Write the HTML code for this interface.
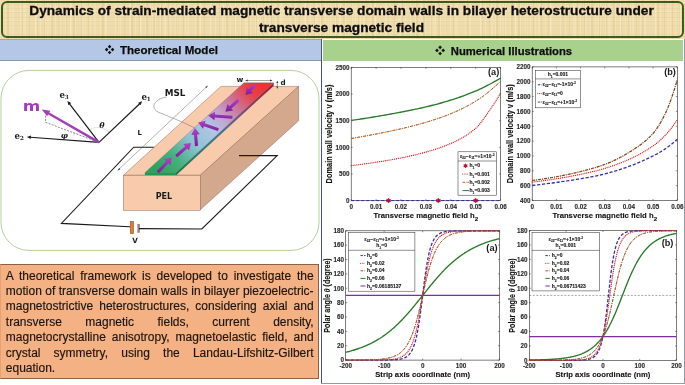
<!DOCTYPE html>
<html><head><meta charset="utf-8"><title>Dynamics of strain-mediated magnetic transverse domain walls</title>
<style>
*{box-sizing:border-box}
html,body{margin:0;padding:0;background:#fff;width:685px;height:385px;overflow:hidden}
body{position:relative;font-family:'Liberation Sans',Arial,sans-serif}
#title{position:absolute;left:0;top:0;width:685px;height:39px;background-color:#efdcab;
 background-image:repeating-linear-gradient(90deg,rgba(255,250,225,0.22) 0 1px,rgba(0,0,0,0) 1px 5px),repeating-linear-gradient(90deg,rgba(150,110,50,0.08) 0 1.5px,rgba(0,0,0,0) 1.5px 7.3px),repeating-linear-gradient(90deg,rgba(255,255,235,0.15) 0 2px,rgba(0,0,0,0) 2px 11.7px),repeating-linear-gradient(0deg,rgba(150,110,50,0.06) 0 1px,rgba(0,0,0,0) 1px 4.3px),repeating-linear-gradient(0deg,rgba(255,250,225,0.14) 0 1px,rgba(0,0,0,0) 1px 9.1px);}
#tbox{position:absolute;left:1px;top:1px;width:682.6px;height:36.8px;border:2px solid #3f5a1e;border-radius:6px}
#title .t{position:absolute;left:0;width:683px;text-align:center;font-weight:bold;font-size:13.7px;color:#0d0d0d;white-space:nowrap;line-height:16px;-webkit-text-stroke:0.3px #0d0d0d}
#hb{position:absolute;left:0;top:39px;width:321px;height:21.6px;background:#b4c7e7;border-top:1px solid #b0a88a;border-bottom:1px solid #8497b0}
#hg{position:absolute;left:322.5px;top:39.5px;width:360px;height:21.3px;background:#a9d18e}
.hd{position:absolute;font-weight:bold;color:#0d0d0d;white-space:nowrap;-webkit-text-stroke:0.25px #0d0d0d}
#vsep{position:absolute;left:320.8px;top:39px;width:1.3px;height:344px;background:#4a5466}
#rbox{position:absolute;left:321px;top:39px;width:363.8px;height:344.5px;border-right:1px solid #8e9ab0;border-bottom:1px solid #8e9ab0}
#para{position:absolute;left:0;top:263.6px;width:319px;height:115px;background:#f4b183;border:1px solid #8a6048;border-left:1px solid #e8a070;padding:4.2px 4.4px 0 4.8px;font-size:12px;line-height:15.35px;color:#1c140e;-webkit-text-stroke:0.15px #1c140e}
.pl{text-align:justify;text-align-last:justify;white-space:nowrap;height:15.35px}
.pl.last{text-align-last:left}
svg{position:absolute;left:0;top:0}
.tk{font:bold 6.3px 'Liberation Sans',Arial,sans-serif;fill:#2a2a2a;stroke:#2a2a2a;stroke-width:0.12}
.lb{font:bold 7.7px 'Liberation Sans',Arial,sans-serif;fill:#111;stroke:#111;stroke-width:0.1}
.tag{font:bold 9.2px 'Liberation Sans',Arial,sans-serif;fill:#1a1a1a}
.lg{font:bold 5px 'Liberation Sans',Arial,sans-serif;fill:#1a1a1a;stroke:#1a1a1a;stroke-width:0.12}
.dg{font-family:'Liberation Sans',Arial,sans-serif;font-weight:bold;fill:#1a1a1a}
.dj{font-family:'DejaVu Sans','Liberation Sans',Arial,sans-serif;font-weight:bold;fill:#1a1a1a}
.sv{font-family:'Liberation Serif',serif;font-weight:bold;fill:#1a1a1a}
</style></head><body>
<div id="title"><div id="tbox"></div>
<div class="t" style="top:3.4px">Dynamics of strain-mediated magnetic transverse domain walls in bilayer heterostructure under</div>
<div class="t" style="top:19.5px">transverse magnetic field</div></div>
<div id="hb"></div><div id="hg"></div>
<div class="hd" style="left:119.9px;top:44.4px;font-size:11.55px">Theoretical Model</div>
<div class="hd" style="left:450.8px;top:44.8px;font-size:11.25px">Numerical Illustrations</div>
<div id="rbox"></div>
<div id="vsep"></div>
<div id="para"><div class="pl">A theoretical framework is developed to investigate the</div><div class="pl">motion of transverse domain walls in bilayer piezoelectric-</div><div class="pl">magnetostrictive heterostructures, considering axial and</div><div class="pl">transverse magnetic fields, current density,</div><div class="pl">magnetocrystalline anisotropy, magnetoelastic field, and</div><div class="pl">crystal symmetry, using the Landau-Lifshitz-Gilbert</div><div class="pl last">equation.</div></div>
<svg width="685" height="385" viewBox="0 0 685 385">
<rect x="1" y="70.4" width="318" height="180" rx="28" ry="28" fill="none" stroke="#a6c88a" stroke-width="0.85"/>
<polyline points="154.2,147.2 133.7,147.2 61.4,223.4 130,226.8" fill="none" stroke="#1a1a1a" stroke-width="1.1"/>
<rect x="130.2" y="221.4" width="3.4" height="12.3" fill="#e07b30" stroke="#8a4a1a" stroke-width="0.5"/>
<rect x="137.7" y="224.1" width="2" height="8.5" fill="#a08080" stroke="#806060" stroke-width="0.3"/>
<text x="135" y="242.6" text-anchor="middle" class="dj" font-size="7.2">V</text>
<line x1="207.8" y1="85.7" x2="117.7" y2="170.4" stroke="#555" stroke-width="0.45"/>
<path d="M207.8 85.7l-2.6 1.2 1.2 1.2z M117.7 170.4l2.6 -1.2 -1.2 -1.2z" fill="#333"/>
<text x="139.7" y="134.8" text-anchor="middle" class="dj" font-size="6.8">L</text>
<polygon points="123.6,175.1 220.9,86.4 298.6,86.4 200.3,175.1" fill="#f9cbad" stroke="#8a6a5a" stroke-width="0.5"/>
<polygon points="200.3,175.1 298.6,86.4 298.6,120.8 200.3,209.7" fill="#d4a88c" stroke="#8a6a5a" stroke-width="0.5"/>
<rect x="123.3" y="175.3" width="77" height="35" fill="#f8cbad" stroke="#8a6a5a" stroke-width="0.5"/>
<text x="163.9" y="198.8" text-anchor="middle" class="dj" font-size="8">PEL</text>
<polyline points="139,228.6 201.8,229 277.2,155.6 239,155.6" fill="none" stroke="#1a1a1a" stroke-width="1.1"/>
<defs><linearGradient id="sg" gradientUnits="userSpaceOnUse" x1="160" y1="173" x2="259" y2="83">
<stop offset="0" stop-color="#2aa458"/><stop offset="0.16" stop-color="#46b07e"/><stop offset="0.34" stop-color="#8cc4d4"/>
<stop offset="0.5" stop-color="#b0c6e4"/><stop offset="0.62" stop-color="#c2a6d2"/><stop offset="0.76" stop-color="#cc7496"/><stop offset="0.9" stop-color="#e6444a"/><stop offset="1" stop-color="#f03232"/></linearGradient>
<linearGradient id="ag" x1="0" y1="0" x2="0" y2="1"><stop offset="0" stop-color="#b044c8"/><stop offset="1" stop-color="#7c1e98"/></linearGradient></defs>
<defs><linearGradient id="sd" gradientUnits="userSpaceOnUse" x1="176" y1="174" x2="274" y2="84"><stop offset="0" stop-color="#137a3e"/><stop offset="0.4" stop-color="#3a7a8a"/><stop offset="0.6" stop-color="#6a5a8a"/><stop offset="1" stop-color="#a8182a"/></linearGradient></defs><polygon points="175.9,172.7 273.6,82.8 273.6,85.9 175.9,175.4" fill="url(#sd)"/>
<polygon points="144.9,172.7 244,82.8 273.6,82.8 175.9,172.7" fill="url(#sg)" stroke="#557" stroke-width="0.3"/>
<rect x="144.9" y="172.7" width="31" height="2.4" fill="#1e9a52"/>
<polygon points="158.92,173.27 168.37,163.35 170.36,165.24 171.8,157.5 164.13,159.31 166.13,161.21 156.68,171.13" fill="url(#ag)"/>
<polygon points="177.23,157.36 187.21,148.45 189.04,150.5 191.1,142.9 183.31,144.09 185.14,146.14 175.17,155.04" fill="url(#ag)"/>
<polygon points="198.04,145.87 197.1,134.55 199.84,134.32 195,128.1 191.27,135.04 194.01,134.81 194.96,146.13" fill="url(#ag)"/>
<polygon points="218.91,128.13 204.84,123.29 205.74,120.69 198.1,122.6 202.94,128.82 203.83,126.22 217.89,131.07" fill="url(#ag)"/>
<polygon points="232.5,115.65 214.89,114.49 215.07,111.74 208.2,115.6 214.5,120.33 214.68,117.58 232.3,118.75" fill="url(#ag)"/>
<polygon points="237.57,98.84 229.31,106.16 227.49,104.1 225.4,111.7 233.19,110.54 231.37,108.48 239.63,101.16" fill="url(#ag)"/>
<polygon points="253.76,83.75 248.83,89.1 246.81,87.23 245.5,95 253.13,93.06 251.11,91.2 256.04,85.85" fill="url(#ag)"/>
<path d="M166.5 97 C154 99 150 108 158 112 C170 117 183 122 195 128" fill="none" stroke="#666" stroke-width="0.5"/>
<text x="175" y="95.7" text-anchor="middle" class="dj" font-size="8.8">MSL</text>
<text x="240" y="81.6" text-anchor="middle" class="dj" font-size="7.4">w</text>
<line x1="245.5" y1="80.5" x2="272.2" y2="80.5" stroke="#333" stroke-width="0.45"/>
<path d="M245.5 80.5l2.2 -1 0 2z M272.2 80.5l-2.2 -1 0 2z" fill="#333"/>
<line x1="277.3" y1="81" x2="277.3" y2="88.6" stroke="#333" stroke-width="0.45"/>
<path d="M277.3 81l-1 2 2 0z M277.3 88.6l-1 -2 2 0z" fill="#333"/>
<text x="283" y="85.4" text-anchor="middle" class="dj" font-size="7.2">d</text>
<path d="M45.6 115.6 V122.3 L99 142.4" fill="none" stroke="#555" stroke-width="0.7" stroke-dasharray="2 1.3"/>
<path d="M88.5 130 Q100 124 109.4 132.4" fill="none" stroke="#a89090" stroke-width="0.55" stroke-dasharray="0.7 0.8"/>
<path d="M73 137.5 Q75 134 73 131.5" fill="none" stroke="#777" stroke-width="0.5" stroke-dasharray="0.6 0.8"/>
<line x1="99" y1="142.4" x2="139.66" y2="103.71" stroke="#1a1a1a" stroke-width="1.2"/><polygon points="142.2,101.3 140.54,105.36 138.06,102.75" fill="#1a1a1a"/>
<line x1="99" y1="142.4" x2="69.52" y2="103.78" stroke="#1a1a1a" stroke-width="1.2"/><polygon points="67.4,101 71.26,103.09 68.4,105.27" fill="#1a1a1a"/>
<line x1="99" y1="142.4" x2="30.39" y2="137.26" stroke="#1a1a1a" stroke-width="1.2"/><polygon points="26.9,137 31.02,135.5 30.75,139.09" fill="#1a1a1a"/>
<line x1="99" y1="142.4" x2="48.3" y2="113.24" stroke="#a040b8" stroke-width="2.4"/><polygon points="41.8,109.5 50.38,110.63 47.09,116.35" fill="#a040b8"/>
<text transform="translate(31.4 111.4) scale(1.2 1)" text-anchor="middle" class="dj" font-size="14" style="fill:#a23cba">m</text>
<text x="59.4" y="98.2" class="sv" font-size="8.6" style="font-family:DejaVu Serif,serif">e<tspan font-size="5.6" baseline-shift="-1.2">3</tspan></text>
<text x="141.4" y="99.9" class="sv" font-size="8.6" style="font-family:DejaVu Serif,serif">e<tspan font-size="5.6" baseline-shift="-1.2">1</tspan></text>
<text x="14.6" y="138.9" class="sv" font-size="8.6" style="font-family:DejaVu Serif,serif">e<tspan font-size="5.6" baseline-shift="-1.2">2</tspan></text>
<text x="99.3" y="127.6" class="sv" font-size="8" font-style="italic" style="font-family:DejaVu Serif,serif">θ</text>
<text x="60.8" y="137.6" class="sv" font-size="8" font-style="italic" style="font-family:DejaVu Serif,serif">φ</text>
<path d="M109.6 44.85L111.4 46.65L109.6 48.45L107.8 46.65ZM109.6 50.75L111.4 52.55L109.6 54.35L107.8 52.55ZM106.65 47.8L108.45 49.6L106.65 51.4L104.85 49.6ZM112.55 47.8L114.35 49.6L112.55 51.4L110.75 49.6Z" fill="#111"/>
<path d="M440.1 45.45L441.95 47.3L440.1 49.15L438.25 47.3ZM440.1 51.65L441.95 53.5L440.1 55.35L438.25 53.5ZM437 48.55L438.85 50.4L437 52.25L435.15 50.4ZM443.2 48.55L445.05 50.4L443.2 52.25L441.35 50.4Z" fill="#111"/>
<rect x="351.2" y="67.4" width="149.4" height="133.2" fill="#fff" stroke="#262626" stroke-width="0.6"/>
<path d="M351.2 200.6v-1.5M351.2 67.4v1.5" stroke="#262626" stroke-width="0.5"/>
<path d="M376.1 200.6v-1.5M376.1 67.4v1.5" stroke="#262626" stroke-width="0.5"/>
<path d="M401 200.6v-1.5M401 67.4v1.5" stroke="#262626" stroke-width="0.5"/>
<path d="M425.9 200.6v-1.5M425.9 67.4v1.5" stroke="#262626" stroke-width="0.5"/>
<path d="M450.8 200.6v-1.5M450.8 67.4v1.5" stroke="#262626" stroke-width="0.5"/>
<path d="M475.7 200.6v-1.5M475.7 67.4v1.5" stroke="#262626" stroke-width="0.5"/>
<path d="M500.6 200.6v-1.5M500.6 67.4v1.5" stroke="#262626" stroke-width="0.5"/>
<path d="M351.2 200.6h1.5M500.6 200.6h-1.5" stroke="#262626" stroke-width="0.5"/>
<path d="M351.2 173.96h1.5M500.6 173.96h-1.5" stroke="#262626" stroke-width="0.5"/>
<path d="M351.2 147.32h1.5M500.6 147.32h-1.5" stroke="#262626" stroke-width="0.5"/>
<path d="M351.2 120.68h1.5M500.6 120.68h-1.5" stroke="#262626" stroke-width="0.5"/>
<path d="M351.2 94.04h1.5M500.6 94.04h-1.5" stroke="#262626" stroke-width="0.5"/>
<path d="M351.2 67.4h1.5M500.6 67.4h-1.5" stroke="#262626" stroke-width="0.5"/>
<text x="351.2" y="208.7" text-anchor="middle" class="tk">0</text>
<text x="376.1" y="208.7" text-anchor="middle" class="tk">0.01</text>
<text x="401" y="208.7" text-anchor="middle" class="tk">0.02</text>
<text x="425.9" y="208.7" text-anchor="middle" class="tk">0.03</text>
<text x="450.8" y="208.7" text-anchor="middle" class="tk">0.04</text>
<text x="475.7" y="208.7" text-anchor="middle" class="tk">0.05</text>
<text x="500.6" y="208.7" text-anchor="middle" class="tk">0.06</text>
<text x="349.5" y="202.9" text-anchor="end" class="tk">0</text>
<text x="349.5" y="176.26" text-anchor="end" class="tk">500</text>
<text x="349.5" y="149.62" text-anchor="end" class="tk">1000</text>
<text x="349.5" y="122.98" text-anchor="end" class="tk">1500</text>
<text x="349.5" y="96.34" text-anchor="end" class="tk">2000</text>
<text x="349.5" y="69.7" text-anchor="end" class="tk">2500</text>
<text x="425.9" y="217.6" text-anchor="middle" class="lb">Transverse magnetic field h<tspan baseline-shift="-3.2" font-size="6.2">2</tspan></text>
<text transform="translate(332.2 134) rotate(-90) scale(0.964 1.1)" text-anchor="middle" class="lb">Domain wall velocity v (m/s)</text>
<text x="499.3" y="74.7" text-anchor="end" class="tag">(a)</text>
<polyline points="351.2,165.7 353.09,165.46 354.98,165.22 356.87,164.97 358.76,164.72 360.66,164.46 362.55,164.2 364.44,163.93 366.33,163.66 368.22,163.39 370.11,163.11 372,162.83 373.89,162.54 375.78,162.25 377.68,161.95 379.57,161.66 381.46,161.36 383.35,161.05 385.24,160.74 387.13,160.43 389.02,160.1 390.91,159.78 392.81,159.44 394.7,159.1 396.59,158.75 398.48,158.39 400.37,158.02 402.26,157.65 404.15,157.26 406.04,156.87 407.93,156.47 409.83,156.06 411.72,155.64 413.61,155.21 415.5,154.77 417.39,154.32 419.28,153.85 421.17,153.37 423.06,152.87 424.95,152.36 426.85,151.84 428.74,151.3 430.63,150.75 432.52,150.18 434.41,149.59 436.3,148.99 438.19,148.36 440.08,147.71 441.97,147.04 443.87,146.33 445.76,145.6 447.65,144.84 449.54,144.05 451.43,143.22 453.32,142.36 455.21,141.47 457.1,140.54 458.99,139.57 460.89,138.55 462.78,137.47 464.67,136.34 466.56,135.14 468.45,133.88 470.34,132.54 472.23,131.12 474.12,129.62 476.02,128.02 477.91,126.16 479.8,123.97 481.69,121.55 483.58,118.97 485.47,116.29 487.36,113.61 489.25,110.94 491.14,108.2 493.04,105.37 494.93,102.45 496.82,99.44 498.71,96.36 500.6,93.2" fill="none" stroke="#d42228" stroke-width="1.3" stroke-dasharray="0.01 1.9" stroke-linecap="round"/>
<polyline points="351.2,138.5 353.09,138.18 354.98,137.86 356.87,137.54 358.76,137.21 360.66,136.87 362.55,136.53 364.44,136.19 366.33,135.85 368.22,135.5 370.11,135.14 372,134.79 373.89,134.43 375.78,134.06 377.68,133.69 379.57,133.32 381.46,132.95 383.35,132.58 385.24,132.2 387.13,131.81 389.02,131.42 390.91,131.03 392.81,130.62 394.7,130.22 396.59,129.8 398.48,129.38 400.37,128.95 402.26,128.51 404.15,128.06 406.04,127.61 407.93,127.15 409.83,126.68 411.72,126.2 413.61,125.71 415.5,125.22 417.39,124.71 419.28,124.19 421.17,123.67 423.06,123.13 424.95,122.58 426.85,122.02 428.74,121.45 430.63,120.86 432.52,120.27 434.41,119.66 436.3,119.04 438.19,118.4 440.08,117.75 441.97,117.08 443.87,116.39 445.76,115.69 447.65,114.96 449.54,114.21 451.43,113.44 453.32,112.65 455.21,111.84 457.1,111 458.99,110.14 460.89,109.25 462.78,108.33 464.67,107.38 466.56,106.41 468.45,105.4 470.34,104.35 472.23,103.27 474.12,102.16 476.02,101 477.91,99.8 479.8,98.53 481.69,97.21 483.58,95.83 485.47,94.4 487.36,92.91 489.25,91.38 491.14,89.8 493.04,88.18 494.93,86.52 496.82,84.82 498.71,83.08 500.6,81.3" fill="none" stroke="#8a3b12" stroke-width="1.0" stroke-dasharray="3 1 1 1"/>
<polyline points="351.2,138.5 353.09,138.18 354.98,137.86 356.87,137.54 358.76,137.21 360.66,136.87 362.55,136.53 364.44,136.19 366.33,135.85 368.22,135.5 370.11,135.14 372,134.79 373.89,134.43 375.78,134.06 377.68,133.69 379.57,133.32 381.46,132.95 383.35,132.58 385.24,132.2 387.13,131.81 389.02,131.42 390.91,131.03 392.81,130.62 394.7,130.22 396.59,129.8 398.48,129.38 400.37,128.95 402.26,128.51 404.15,128.06 406.04,127.61 407.93,127.15 409.83,126.68 411.72,126.2 413.61,125.71 415.5,125.22 417.39,124.71 419.28,124.19 421.17,123.67 423.06,123.13 424.95,122.58 426.85,122.02 428.74,121.45 430.63,120.86 432.52,120.27 434.41,119.66 436.3,119.04 438.19,118.4 440.08,117.75 441.97,117.08 443.87,116.39 445.76,115.69 447.65,114.96 449.54,114.21 451.43,113.44 453.32,112.65 455.21,111.84 457.1,111 458.99,110.14 460.89,109.25 462.78,108.33 464.67,107.38 466.56,106.41 468.45,105.4 470.34,104.35 472.23,103.27 474.12,102.16 476.02,101 477.91,99.8 479.8,98.53 481.69,97.21 483.58,95.83 485.47,94.4 487.36,92.91 489.25,91.38 491.14,89.8 493.04,88.18 494.93,86.52 496.82,84.82 498.71,83.08 500.6,81.3" fill="none" stroke="#e8862a" stroke-width="0.5" stroke-dasharray="3 1 1 1"/>
<polyline points="351.2,120.4 353.09,120.14 354.98,119.87 356.87,119.59 358.76,119.32 360.66,119.04 362.55,118.75 364.44,118.46 366.33,118.17 368.22,117.87 370.11,117.57 372,117.27 373.89,116.96 375.78,116.65 377.68,116.34 379.57,116.02 381.46,115.69 383.35,115.36 385.24,115.03 387.13,114.69 389.02,114.35 390.91,114.01 392.81,113.66 394.7,113.3 396.59,112.95 398.48,112.59 400.37,112.22 402.26,111.86 404.15,111.49 406.04,111.12 407.93,110.75 409.83,110.37 411.72,109.99 413.61,109.6 415.5,109.21 417.39,108.81 419.28,108.4 421.17,107.98 423.06,107.56 424.95,107.12 426.85,106.68 428.74,106.22 430.63,105.75 432.52,105.27 434.41,104.79 436.3,104.29 438.19,103.78 440.08,103.26 441.97,102.73 443.87,102.19 445.76,101.63 447.65,101.07 449.54,100.49 451.43,99.9 453.32,99.3 455.21,98.69 457.1,98.06 458.99,97.41 460.89,96.76 462.78,96.08 464.67,95.39 466.56,94.68 468.45,93.96 470.34,93.21 472.23,92.45 474.12,91.67 476.02,90.86 477.91,90.03 479.8,89.18 481.69,88.29 483.58,87.38 485.47,86.44 487.36,85.47 489.25,84.49 491.14,83.48 493.04,82.44 494.93,81.39 496.82,80.31 498.71,79.21 500.6,78.1" fill="none" stroke="#2a7a2a" stroke-width="1.35"/>
<polyline points="351.2,200.6 500.6,200.6" fill="none" stroke="#2b2ba8" stroke-width="1.0" stroke-dasharray="3 2"/>
<polygon points="388.55,198.1 389.32,199.26 390.72,199.35 390.1,200.6 390.72,201.85 389.32,201.94 388.55,203.1 387.78,201.94 386.38,201.85 387,200.6 386.38,199.35 387.78,199.26" fill="#c0102a" stroke="#8a0a1a" stroke-width="0.3"/>
<polygon points="438.35,198.1 439.12,199.26 440.52,199.35 439.9,200.6 440.52,201.85 439.12,201.94 438.35,203.1 437.58,201.94 436.18,201.85 436.8,200.6 436.18,199.35 437.58,199.26" fill="#c0102a" stroke="#8a0a1a" stroke-width="0.3"/>
<polygon points="475.7,198.1 476.48,199.26 477.87,199.35 477.25,200.6 477.87,201.85 476.48,201.94 475.7,203.1 474.93,201.94 473.53,201.85 474.15,200.6 473.53,199.35 474.93,199.26" fill="#c0102a" stroke="#8a0a1a" stroke-width="0.3"/>
<rect x="458" y="151.8" width="38.5" height="43.4" fill="#fff" stroke="#262626" stroke-width="0.5"/>
<line x1="458" x2="496.5" y1="161" y2="161" stroke="#262626" stroke-width="0.5"/>
<text x="477.2" y="158.2" text-anchor="middle" class="lg">ε<tspan baseline-shift="-1.3" font-size="3.2">22</tspan>−ε<tspan baseline-shift="-1.3" font-size="3.2">11</tspan>=+1×10<tspan baseline-shift="2" font-size="3.2">-3</tspan></text>
<polygon points="465.5,163.3 466.3,164.41 467.67,164.55 467.1,165.8 467.67,167.05 466.3,167.19 465.5,168.3 464.7,167.19 463.33,167.05 463.9,165.8 463.33,164.55 464.7,164.41" fill="#c0102a"/>
<text x="469.5" y="167.3" class="lg">h<tspan baseline-shift="-1.7" font-size="3.4">1</tspan>=0</text>
<line x1="462.5" x2="469" y1="174" y2="174" stroke="#d42228" stroke-dasharray="0.01 1.7" stroke-linecap="round" stroke-width="1.1"/>
<text x="469.5" y="175.5" class="lg">h<tspan baseline-shift="-1.7" font-size="3.4">1</tspan>=0.001</text>
<line x1="462.5" x2="469" y1="182.3" y2="182.3" stroke="#c8651e" stroke-width="1" stroke-dasharray="2.5 0.8 0.8 0.8"/>
<text x="469.5" y="183.8" class="lg">h<tspan baseline-shift="-1.7" font-size="3.4">1</tspan>=0.002</text>
<line x1="462.5" x2="469" y1="190.6" y2="190.6" stroke="#2a7a2a" stroke-width="1"/>
<text x="469.5" y="192.1" class="lg">h<tspan baseline-shift="-1.7" font-size="3.4">1</tspan>=0.003</text>
<rect x="532.2" y="66.9" width="145.1" height="133.6" fill="#fff" stroke="#262626" stroke-width="0.6"/>
<path d="M532.2 200.5v-1.5M532.2 66.9v1.5" stroke="#262626" stroke-width="0.5"/>
<path d="M556.38 200.5v-1.5M556.38 66.9v1.5" stroke="#262626" stroke-width="0.5"/>
<path d="M580.57 200.5v-1.5M580.57 66.9v1.5" stroke="#262626" stroke-width="0.5"/>
<path d="M604.75 200.5v-1.5M604.75 66.9v1.5" stroke="#262626" stroke-width="0.5"/>
<path d="M628.93 200.5v-1.5M628.93 66.9v1.5" stroke="#262626" stroke-width="0.5"/>
<path d="M653.12 200.5v-1.5M653.12 66.9v1.5" stroke="#262626" stroke-width="0.5"/>
<path d="M677.3 200.5v-1.5M677.3 66.9v1.5" stroke="#262626" stroke-width="0.5"/>
<path d="M532.2 200.5h1.5M677.3 200.5h-1.5" stroke="#262626" stroke-width="0.5"/>
<path d="M532.2 185.66h1.5M677.3 185.66h-1.5" stroke="#262626" stroke-width="0.5"/>
<path d="M532.2 170.81h1.5M677.3 170.81h-1.5" stroke="#262626" stroke-width="0.5"/>
<path d="M532.2 155.97h1.5M677.3 155.97h-1.5" stroke="#262626" stroke-width="0.5"/>
<path d="M532.2 141.12h1.5M677.3 141.12h-1.5" stroke="#262626" stroke-width="0.5"/>
<path d="M532.2 126.28h1.5M677.3 126.28h-1.5" stroke="#262626" stroke-width="0.5"/>
<path d="M532.2 111.43h1.5M677.3 111.43h-1.5" stroke="#262626" stroke-width="0.5"/>
<path d="M532.2 96.59h1.5M677.3 96.59h-1.5" stroke="#262626" stroke-width="0.5"/>
<path d="M532.2 81.74h1.5M677.3 81.74h-1.5" stroke="#262626" stroke-width="0.5"/>
<path d="M532.2 66.9h1.5M677.3 66.9h-1.5" stroke="#262626" stroke-width="0.5"/>
<text x="532.2" y="208.6" text-anchor="middle" class="tk">0</text>
<text x="556.38" y="208.6" text-anchor="middle" class="tk">0.01</text>
<text x="580.57" y="208.6" text-anchor="middle" class="tk">0.02</text>
<text x="604.75" y="208.6" text-anchor="middle" class="tk">0.03</text>
<text x="628.93" y="208.6" text-anchor="middle" class="tk">0.04</text>
<text x="653.12" y="208.6" text-anchor="middle" class="tk">0.05</text>
<text x="677.3" y="208.6" text-anchor="middle" class="tk">0.06</text>
<text x="530.5" y="202.8" text-anchor="end" class="tk">400</text>
<text x="530.5" y="187.96" text-anchor="end" class="tk">600</text>
<text x="530.5" y="173.11" text-anchor="end" class="tk">800</text>
<text x="530.5" y="158.27" text-anchor="end" class="tk">1000</text>
<text x="530.5" y="143.42" text-anchor="end" class="tk">1200</text>
<text x="530.5" y="128.58" text-anchor="end" class="tk">1400</text>
<text x="530.5" y="113.73" text-anchor="end" class="tk">1600</text>
<text x="530.5" y="98.89" text-anchor="end" class="tk">1800</text>
<text x="530.5" y="84.04" text-anchor="end" class="tk">2000</text>
<text x="530.5" y="69.2" text-anchor="end" class="tk">2200</text>
<text x="604.75" y="217.6" text-anchor="middle" class="lb">Transverse magnetic field h<tspan baseline-shift="-3.2" font-size="6.2">2</tspan></text>
<text transform="translate(513 133.7) rotate(-90) scale(0.964 1.1)" text-anchor="middle" class="lb">Domain wall velocity v (m/s)</text>
<text x="675.9" y="74.7" text-anchor="end" class="tag">(b)</text>
<polyline points="532.2,185.47 534.04,185.26 535.87,185.05 537.71,184.84 539.55,184.62 541.38,184.4 543.22,184.18 545.06,183.95 546.89,183.72 548.73,183.48 550.57,183.24 552.4,183 554.24,182.75 556.08,182.5 557.91,182.25 559.75,181.99 561.59,181.73 563.42,181.47 565.26,181.2 567.1,180.92 568.93,180.64 570.77,180.36 572.61,180.07 574.44,179.78 576.28,179.48 578.12,179.17 579.95,178.86 581.79,178.54 583.63,178.22 585.46,177.89 587.3,177.56 589.14,177.22 590.97,176.88 592.81,176.53 594.65,176.16 596.48,175.79 598.32,175.4 600.16,175 601.99,174.59 603.83,174.16 605.67,173.71 607.51,173.25 609.34,172.76 611.18,172.24 613.02,171.71 614.85,171.16 616.69,170.59 618.53,170.01 620.36,169.41 622.2,168.79 624.04,168.16 625.87,167.52 627.71,166.87 629.55,166.2 631.38,165.52 633.22,164.81 635.06,164.09 636.89,163.34 638.73,162.58 640.57,161.79 642.4,160.99 644.24,160.16 646.08,159.32 647.91,158.45 649.75,157.57 651.59,156.67 653.42,155.74 655.26,154.79 657.1,153.81 658.93,152.78 660.77,151.7 662.61,150.58 664.44,149.39 666.28,148.15 668.12,146.82 669.95,145.42 671.79,143.95 673.63,142.42 675.46,140.82 677.3,139.16" fill="none" stroke="#3a2eb0" stroke-width="1.3" stroke-dasharray="3.2 1.7"/>
<polyline points="532.2,182.16 534.04,181.93 535.87,181.7 537.71,181.47 539.55,181.23 541.38,180.98 543.22,180.72 545.06,180.46 546.89,180.2 548.73,179.93 550.57,179.65 552.4,179.37 554.24,179.09 556.08,178.8 557.91,178.51 559.75,178.21 561.59,177.9 563.42,177.59 565.26,177.27 567.1,176.95 568.93,176.61 570.77,176.27 572.61,175.93 574.44,175.58 576.28,175.21 578.12,174.85 579.95,174.47 581.79,174.08 583.63,173.69 585.46,173.29 587.3,172.89 589.14,172.47 590.97,172.05 592.81,171.61 594.65,171.16 596.48,170.7 598.32,170.22 600.16,169.73 601.99,169.22 603.83,168.7 605.67,168.15 607.51,167.59 609.34,167 611.18,166.39 613.02,165.76 614.85,165.11 616.69,164.44 618.53,163.74 620.36,163.02 622.2,162.29 624.04,161.53 625.87,160.75 627.71,159.95 629.55,159.13 631.38,158.29 633.22,157.42 635.06,156.52 636.89,155.6 638.73,154.64 640.57,153.65 642.4,152.63 644.24,151.57 646.08,150.47 647.91,149.33 649.75,148.15 651.59,146.93 653.42,145.66 655.26,144.31 657.1,142.87 658.93,141.33 660.77,139.69 662.61,137.96 664.44,136.14 666.28,134.22 668.12,132.14 669.95,129.92 671.79,127.57 673.63,125.1 675.46,122.51 677.3,119.82" fill="none" stroke="#d42228" stroke-width="1.3" stroke-dasharray="0.01 1.9" stroke-linecap="round"/>
<polyline points="532.2,180.45 534.04,180.23 535.87,179.99 537.71,179.74 539.55,179.48 541.38,179.21 543.22,178.94 545.06,178.65 546.89,178.36 548.73,178.06 550.57,177.76 552.4,177.45 554.24,177.13 556.08,176.8 557.91,176.47 559.75,176.13 561.59,175.77 563.42,175.41 565.26,175.03 567.1,174.65 568.93,174.25 570.77,173.85 572.61,173.43 574.44,173.01 576.28,172.58 578.12,172.14 579.95,171.69 581.79,171.23 583.63,170.77 585.46,170.3 587.3,169.81 589.14,169.32 590.97,168.82 592.81,168.3 594.65,167.76 596.48,167.21 598.32,166.63 600.16,166.03 601.99,165.41 603.83,164.75 605.67,164.07 607.51,163.36 609.34,162.6 611.18,161.8 613.02,160.97 614.85,160.11 616.69,159.21 618.53,158.27 620.36,157.31 622.2,156.31 624.04,155.28 625.87,154.22 627.71,153.13 629.55,152.02 631.38,150.89 633.22,149.73 635.06,148.54 636.89,147.32 638.73,146.04 640.57,144.71 642.4,143.31 644.24,141.83 646.08,140.27 647.91,138.62 649.75,136.86 651.59,134.99 653.42,133.01 655.26,130.76 657.1,128.2 658.93,125.34 660.77,122.22 662.61,118.85 664.44,115.26 666.28,111.42 668.12,107.12 669.95,102.38 671.79,97.25 673.63,91.75 675.46,85.93 677.3,79.83" fill="none" stroke="#5a2808" stroke-width="1.15" stroke-dasharray="3 1 1 1"/>
<polyline points="532.2,180.45 534.04,180.23 535.87,179.99 537.71,179.74 539.55,179.48 541.38,179.21 543.22,178.94 545.06,178.65 546.89,178.36 548.73,178.06 550.57,177.76 552.4,177.45 554.24,177.13 556.08,176.8 557.91,176.47 559.75,176.13 561.59,175.77 563.42,175.41 565.26,175.03 567.1,174.65 568.93,174.25 570.77,173.85 572.61,173.43 574.44,173.01 576.28,172.58 578.12,172.14 579.95,171.69 581.79,171.23 583.63,170.77 585.46,170.3 587.3,169.81 589.14,169.32 590.97,168.82 592.81,168.3 594.65,167.76 596.48,167.21 598.32,166.63 600.16,166.03 601.99,165.41 603.83,164.75 605.67,164.07 607.51,163.36 609.34,162.6 611.18,161.8 613.02,160.97 614.85,160.11 616.69,159.21 618.53,158.27 620.36,157.31 622.2,156.31 624.04,155.28 625.87,154.22 627.71,153.13 629.55,152.02 631.38,150.89 633.22,149.73 635.06,148.54 636.89,147.32 638.73,146.04 640.57,144.71 642.4,143.31 644.24,141.83 646.08,140.27 647.91,138.62 649.75,136.86 651.59,134.99 653.42,133.01 655.26,130.76 657.1,128.2 658.93,125.34 660.77,122.22 662.61,118.85 664.44,115.26 666.28,111.42 668.12,107.12 669.95,102.38 671.79,97.25 673.63,91.75 675.46,85.93 677.3,79.83" fill="none" stroke="#d8782a" stroke-width="0.4" stroke-dasharray="3 1 1 1"/>
<rect x="535.5" y="70.6" width="44.8" height="37.2" fill="#fff" stroke="#262626" stroke-width="0.5"/>
<line x1="535.5" x2="580.3" y1="78.9" y2="78.9" stroke="#262626" stroke-width="0.5"/>
<text x="557.9" y="76.4" text-anchor="middle" class="lg">h<tspan baseline-shift="-1.7" font-size="3.4">1</tspan>=0.001</text>
<line x1="537.8" x2="541.8" y1="84.8" y2="84.8" stroke="#2b2ba8" stroke-width="1" stroke-dasharray="2.4 1.2"/>
<text x="542.6" y="86.3" class="lg">ε<tspan baseline-shift="-1.3" font-size="3.2">22</tspan>−ε<tspan baseline-shift="-1.3" font-size="3.2">11</tspan>=-1×10<tspan baseline-shift="2" font-size="3.2">-3</tspan></text>
<line x1="537.8" x2="541.8" y1="93.5" y2="93.5" stroke="#d42228" stroke-dasharray="0.01 1.7" stroke-linecap="round" stroke-width="1.1"/>
<text x="542.6" y="95" class="lg">ε<tspan baseline-shift="-1.3" font-size="3.2">22</tspan>−ε<tspan baseline-shift="-1.3" font-size="3.2">11</tspan>=0</text>
<line x1="537.8" x2="541.8" y1="102.1" y2="102.1" stroke="#8a3b12" stroke-width="1" stroke-dasharray="2.5 0.8 0.8 0.8"/>
<text x="542.6" y="103.6" class="lg">ε<tspan baseline-shift="-1.3" font-size="3.2">22</tspan>−ε<tspan baseline-shift="-1.3" font-size="3.2">11</tspan>=+1×10<tspan baseline-shift="2" font-size="3.2">-3</tspan></text>
<rect x="345.7" y="230.8" width="153.9" height="129.3" fill="#fff" stroke="#262626" stroke-width="0.6"/>
<path d="M345.7 360.1v-1.5M345.7 230.8v1.5" stroke="#262626" stroke-width="0.5"/>
<path d="M384.18 360.1v-1.5M384.18 230.8v1.5" stroke="#262626" stroke-width="0.5"/>
<path d="M422.65 360.1v-1.5M422.65 230.8v1.5" stroke="#262626" stroke-width="0.5"/>
<path d="M461.12 360.1v-1.5M461.12 230.8v1.5" stroke="#262626" stroke-width="0.5"/>
<path d="M499.6 360.1v-1.5M499.6 230.8v1.5" stroke="#262626" stroke-width="0.5"/>
<path d="M345.7 360.1h1.5M499.6 360.1h-1.5" stroke="#262626" stroke-width="0.5"/>
<path d="M345.7 345.73h1.5M499.6 345.73h-1.5" stroke="#262626" stroke-width="0.5"/>
<path d="M345.7 331.37h1.5M499.6 331.37h-1.5" stroke="#262626" stroke-width="0.5"/>
<path d="M345.7 317h1.5M499.6 317h-1.5" stroke="#262626" stroke-width="0.5"/>
<path d="M345.7 302.63h1.5M499.6 302.63h-1.5" stroke="#262626" stroke-width="0.5"/>
<path d="M345.7 288.27h1.5M499.6 288.27h-1.5" stroke="#262626" stroke-width="0.5"/>
<path d="M345.7 273.9h1.5M499.6 273.9h-1.5" stroke="#262626" stroke-width="0.5"/>
<path d="M345.7 259.53h1.5M499.6 259.53h-1.5" stroke="#262626" stroke-width="0.5"/>
<path d="M345.7 245.17h1.5M499.6 245.17h-1.5" stroke="#262626" stroke-width="0.5"/>
<path d="M345.7 230.8h1.5M499.6 230.8h-1.5" stroke="#262626" stroke-width="0.5"/>
<text x="345.7" y="368.2" text-anchor="middle" class="tk">-200</text>
<text x="384.18" y="368.2" text-anchor="middle" class="tk">-100</text>
<text x="422.65" y="368.2" text-anchor="middle" class="tk">0</text>
<text x="461.12" y="368.2" text-anchor="middle" class="tk">100</text>
<text x="499.6" y="368.2" text-anchor="middle" class="tk">200</text>
<text x="344" y="362.4" text-anchor="end" class="tk">0</text>
<text x="344" y="348.03" text-anchor="end" class="tk">20</text>
<text x="344" y="333.67" text-anchor="end" class="tk">40</text>
<text x="344" y="319.3" text-anchor="end" class="tk">60</text>
<text x="344" y="304.93" text-anchor="end" class="tk">80</text>
<text x="344" y="290.57" text-anchor="end" class="tk">100</text>
<text x="344" y="276.2" text-anchor="end" class="tk">120</text>
<text x="344" y="261.83" text-anchor="end" class="tk">140</text>
<text x="344" y="247.47" text-anchor="end" class="tk">160</text>
<text x="344" y="233.1" text-anchor="end" class="tk">180</text>
<text x="422.65" y="376.5" text-anchor="middle" class="lb">Strip axis coordinate (nm)</text>
<text transform="translate(330.1 295.45) rotate(-90) scale(0.93 1.1)" text-anchor="middle" class="lb">Polar angle <tspan font-family="Liberation Serif" font-style="italic">θ</tspan> (degree)</text>
<text x="497.6" y="250.6" text-anchor="end" class="tag">(a)</text>
<polyline points="345.7,295.45 499.6,295.45" fill="none" stroke="#7d2fa0" stroke-width="1.25"/>
<polyline points="345.7,352.3 346.47,352.11 347.25,351.92 348.02,351.73 348.79,351.53 349.57,351.32 350.34,351.12 351.11,350.9 351.89,350.68 352.66,350.46 353.43,350.23 354.21,350 354.98,349.76 355.75,349.51 356.53,349.26 357.3,349.01 358.07,348.75 358.85,348.48 359.62,348.2 360.39,347.92 361.17,347.64 361.94,347.34 362.71,347.04 363.49,346.73 364.26,346.42 365.03,346.1 365.81,345.77 366.58,345.44 367.35,345.09 368.13,344.74 368.9,344.38 369.67,344.02 370.45,343.64 371.22,343.26 371.99,342.87 372.77,342.47 373.54,342.06 374.31,341.64 375.09,341.21 375.86,340.78 376.63,340.33 377.41,339.88 378.18,339.41 378.95,338.94 379.73,338.46 380.5,337.96 381.27,337.46 382.05,336.95 382.82,336.42 383.59,335.89 384.37,335.34 385.14,334.78 385.92,334.22 386.69,333.64 387.46,333.05 388.24,332.45 389.01,331.84 389.78,331.22 390.56,330.58 391.33,329.94 392.1,329.28 392.88,328.61 393.65,327.93 394.42,327.24 395.2,326.54 395.97,325.82 396.74,325.1 397.52,324.36 398.29,323.61 399.06,322.85 399.84,322.08 400.61,321.3 401.38,320.51 402.16,319.7 402.93,318.89 403.7,318.06 404.48,317.23 405.25,316.38 406.02,315.53 406.8,314.66 407.57,313.79 408.34,312.91 409.12,312.02 409.89,311.12 410.66,310.21 411.44,309.29 412.21,308.37 412.98,307.44 413.76,306.51 414.53,305.57 415.3,304.62 416.08,303.67 416.85,302.71 417.62,301.75 418.4,300.79 419.17,299.82 419.94,298.85 420.72,297.88 421.49,296.91 422.26,295.94 423.04,294.96 423.81,293.99 424.58,293.02 425.36,292.05 426.13,291.08 426.9,290.11 427.68,289.15 428.45,288.19 429.22,287.23 430,286.28 430.77,285.33 431.54,284.39 432.32,283.46 433.09,282.53 433.86,281.61 434.64,280.69 435.41,279.78 436.18,278.88 436.96,277.99 437.73,277.11 438.5,276.24 439.28,275.37 440.05,274.52 440.82,273.67 441.6,272.84 442.37,272.01 443.14,271.2 443.92,270.39 444.69,269.6 445.46,268.82 446.24,268.05 447.01,267.29 447.78,266.54 448.56,265.8 449.33,265.08 450.1,264.36 450.88,263.66 451.65,262.97 452.42,262.29 453.2,261.62 453.97,260.96 454.74,260.32 455.52,259.68 456.29,259.06 457.06,258.45 457.84,257.85 458.61,257.26 459.38,256.68 460.16,256.12 460.93,255.56 461.71,255.01 462.48,254.48 463.25,253.95 464.03,253.44 464.8,252.94 465.57,252.44 466.35,251.96 467.12,251.49 467.89,251.02 468.67,250.57 469.44,250.12 470.21,249.69 470.99,249.26 471.76,248.84 472.53,248.43 473.31,248.03 474.08,247.64 474.85,247.26 475.63,246.88 476.4,246.52 477.17,246.16 477.95,245.81 478.72,245.46 479.49,245.13 480.27,244.8 481.04,244.48 481.81,244.17 482.59,243.86 483.36,243.56 484.13,243.26 484.91,242.98 485.68,242.7 486.45,242.42 487.23,242.15 488,241.89 488.77,241.64 489.55,241.39 490.32,241.14 491.09,240.9 491.87,240.67 492.64,240.44 493.41,240.22 494.19,240 494.96,239.78 495.73,239.58 496.51,239.37 497.28,239.17 498.05,238.98 498.83,238.79 499.6,238.6" fill="none" stroke="#2a7a2a" stroke-width="1.35"/>
<polyline points="345.7,360.1 346.47,360.1 347.25,360.1 348.02,360.1 348.79,360.1 349.57,360.1 350.34,360.1 351.11,360.1 351.89,360.1 352.66,360.1 353.43,360.1 354.21,360.1 354.98,360.1 355.75,360.1 356.53,360.1 357.3,360.1 358.07,360.1 358.85,360.1 359.62,360.1 360.39,360.1 361.17,360.1 361.94,360.1 362.71,360.1 363.49,360.1 364.26,360.1 365.03,360.1 365.81,360.1 366.58,360.1 367.35,360.1 368.13,360.1 368.9,360.1 369.67,360.1 370.45,360.1 371.22,360.1 371.99,360.1 372.77,360.1 373.54,360.1 374.31,360.09 375.09,360.09 375.86,360.09 376.63,360.09 377.41,360.09 378.18,360.09 378.95,360.09 379.73,360.08 380.5,360.08 381.27,360.08 382.05,360.08 382.82,360.07 383.59,360.07 384.37,360.06 385.14,360.05 385.92,360.05 386.69,360.04 387.46,360.03 388.24,360.02 389.01,360 389.78,359.98 390.56,359.97 391.33,359.94 392.1,359.92 392.88,359.89 393.65,359.85 394.42,359.81 395.2,359.76 395.97,359.7 396.74,359.64 397.52,359.56 398.29,359.47 399.06,359.36 399.84,359.24 400.61,359.1 401.38,358.93 402.16,358.73 402.93,358.5 403.7,358.24 404.48,357.93 405.25,357.56 406.02,357.14 406.8,356.64 407.57,356.07 408.34,355.39 409.12,354.61 409.89,353.69 410.66,352.63 411.44,351.39 412.21,349.94 412.98,348.27 413.76,346.32 414.53,344.07 415.3,341.48 416.08,338.49 416.85,335.09 417.62,331.22 418.4,326.86 419.17,322.02 419.94,316.71 420.72,310.98 421.49,304.91 422.26,298.63 423.04,292.27 423.81,285.99 424.58,279.92 425.36,274.19 426.13,268.88 426.9,264.04 427.68,259.68 428.45,255.81 429.22,252.41 430,249.42 430.77,246.83 431.54,244.58 432.32,242.63 433.09,240.96 433.86,239.51 434.64,238.27 435.41,237.21 436.18,236.29 436.96,235.51 437.73,234.83 438.5,234.26 439.28,233.76 440.05,233.34 440.82,232.97 441.6,232.66 442.37,232.4 443.14,232.17 443.92,231.97 444.69,231.8 445.46,231.66 446.24,231.54 447.01,231.43 447.78,231.34 448.56,231.26 449.33,231.2 450.1,231.14 450.88,231.09 451.65,231.05 452.42,231.01 453.2,230.98 453.97,230.96 454.74,230.93 455.52,230.92 456.29,230.9 457.06,230.88 457.84,230.87 458.61,230.86 459.38,230.85 460.16,230.85 460.93,230.84 461.71,230.83 462.48,230.83 463.25,230.82 464.03,230.82 464.8,230.82 465.57,230.82 466.35,230.81 467.12,230.81 467.89,230.81 468.67,230.81 469.44,230.81 470.21,230.81 470.99,230.81 471.76,230.8 472.53,230.8 473.31,230.8 474.08,230.8 474.85,230.8 475.63,230.8 476.4,230.8 477.17,230.8 477.95,230.8 478.72,230.8 479.49,230.8 480.27,230.8 481.04,230.8 481.81,230.8 482.59,230.8 483.36,230.8 484.13,230.8 484.91,230.8 485.68,230.8 486.45,230.8 487.23,230.8 488,230.8 488.77,230.8 489.55,230.8 490.32,230.8 491.09,230.8 491.87,230.8 492.64,230.8 493.41,230.8 494.19,230.8 494.96,230.8 495.73,230.8 496.51,230.8 497.28,230.8 498.05,230.8 498.83,230.8 499.6,230.8" fill="none" stroke="#3a2eb0" stroke-width="1.3" stroke-dasharray="3.2 1.7"/>
<polyline points="345.7,360.1 346.47,360.1 347.25,360.1 348.02,360.1 348.79,360.1 349.57,360.1 350.34,360.1 351.11,360.1 351.89,360.1 352.66,360.1 353.43,360.1 354.21,360.1 354.98,360.1 355.75,360.1 356.53,360.1 357.3,360.1 358.07,360.1 358.85,360.1 359.62,360.09 360.39,360.09 361.17,360.09 361.94,360.09 362.71,360.09 363.49,360.09 364.26,360.09 365.03,360.09 365.81,360.09 366.58,360.08 367.35,360.08 368.13,360.08 368.9,360.08 369.67,360.07 370.45,360.07 371.22,360.07 371.99,360.06 372.77,360.06 373.54,360.05 374.31,360.05 375.09,360.04 375.86,360.04 376.63,360.03 377.41,360.02 378.18,360.01 378.95,360 379.73,359.98 380.5,359.97 381.27,359.95 382.05,359.93 382.82,359.91 383.59,359.89 384.37,359.86 385.14,359.83 385.92,359.8 386.69,359.76 387.46,359.72 388.24,359.67 389.01,359.62 389.78,359.56 390.56,359.49 391.33,359.41 392.1,359.33 392.88,359.23 393.65,359.12 394.42,359 395.2,358.86 395.97,358.71 396.74,358.53 397.52,358.34 398.29,358.11 399.06,357.87 399.84,357.59 400.61,357.27 401.38,356.91 402.16,356.52 402.93,356.07 403.7,355.56 404.48,354.99 405.25,354.35 406.02,353.64 406.8,352.83 407.57,351.92 408.34,350.9 409.12,349.76 409.89,348.48 410.66,347.04 411.44,345.44 412.21,343.64 412.98,341.64 413.76,339.41 414.53,336.95 415.3,334.22 416.08,331.22 416.85,327.93 417.62,324.36 418.4,320.51 419.17,316.38 419.94,312.02 420.72,307.44 421.49,302.71 422.26,297.88 423.04,293.02 423.81,288.19 424.58,283.46 425.36,278.88 426.13,274.52 426.9,270.39 427.68,266.54 428.45,262.97 429.22,259.68 430,256.68 430.77,253.95 431.54,251.49 432.32,249.26 433.09,247.26 433.86,245.46 434.64,243.86 435.41,242.42 436.18,241.14 436.96,240 437.73,238.98 438.5,238.07 439.28,237.26 440.05,236.55 440.82,235.91 441.6,235.34 442.37,234.83 443.14,234.38 443.92,233.99 444.69,233.63 445.46,233.31 446.24,233.03 447.01,232.79 447.78,232.56 448.56,232.37 449.33,232.19 450.1,232.04 450.88,231.9 451.65,231.78 452.42,231.67 453.2,231.57 453.97,231.49 454.74,231.41 455.52,231.34 456.29,231.28 457.06,231.23 457.84,231.18 458.61,231.14 459.38,231.1 460.16,231.07 460.93,231.04 461.71,231.01 462.48,230.99 463.25,230.97 464.03,230.95 464.8,230.93 465.57,230.92 466.35,230.9 467.12,230.89 467.89,230.88 468.67,230.87 469.44,230.86 470.21,230.86 470.99,230.85 471.76,230.85 472.53,230.84 473.31,230.84 474.08,230.83 474.85,230.83 475.63,230.83 476.4,230.82 477.17,230.82 477.95,230.82 478.72,230.82 479.49,230.81 480.27,230.81 481.04,230.81 481.81,230.81 482.59,230.81 483.36,230.81 484.13,230.81 484.91,230.81 485.68,230.81 486.45,230.8 487.23,230.8 488,230.8 488.77,230.8 489.55,230.8 490.32,230.8 491.09,230.8 491.87,230.8 492.64,230.8 493.41,230.8 494.19,230.8 494.96,230.8 495.73,230.8 496.51,230.8 497.28,230.8 498.05,230.8 498.83,230.8 499.6,230.8" fill="none" stroke="#d42228" stroke-width="1.3" stroke-dasharray="0.01 1.9" stroke-linecap="round"/>
<polyline points="345.7,360.08 346.47,360.08 347.25,360.08 348.02,360.07 348.79,360.07 349.57,360.07 350.34,360.07 351.11,360.06 351.89,360.06 352.66,360.06 353.43,360.05 354.21,360.05 354.98,360.05 355.75,360.04 356.53,360.04 357.3,360.03 358.07,360.02 358.85,360.02 359.62,360.01 360.39,360 361.17,359.99 361.94,359.99 362.71,359.98 363.49,359.96 364.26,359.95 365.03,359.94 365.81,359.93 366.58,359.91 367.35,359.89 368.13,359.88 368.9,359.86 369.67,359.83 370.45,359.81 371.22,359.79 371.99,359.76 372.77,359.73 373.54,359.7 374.31,359.66 375.09,359.62 375.86,359.58 376.63,359.54 377.41,359.49 378.18,359.43 378.95,359.37 379.73,359.31 380.5,359.24 381.27,359.17 382.05,359.09 382.82,359 383.59,358.9 384.37,358.8 385.14,358.68 385.92,358.56 386.69,358.42 387.46,358.28 388.24,358.12 389.01,357.95 389.78,357.76 390.56,357.55 391.33,357.33 392.1,357.09 392.88,356.83 393.65,356.54 394.42,356.23 395.2,355.89 395.97,355.53 396.74,355.13 397.52,354.7 398.29,354.23 399.06,353.71 399.84,353.16 400.61,352.56 401.38,351.9 402.16,351.19 402.93,350.42 403.7,349.58 404.48,348.67 405.25,347.69 406.02,346.62 406.8,345.47 407.57,344.22 408.34,342.87 409.12,341.42 409.89,339.85 410.66,338.16 411.44,336.34 412.21,334.4 412.98,332.31 413.76,330.09 414.53,327.72 415.3,325.2 416.08,322.55 416.85,319.75 417.62,316.82 418.4,313.77 419.17,310.61 419.94,307.35 420.72,304.01 421.49,300.61 422.26,297.17 423.04,293.73 423.81,290.29 424.58,286.89 425.36,283.55 426.13,280.29 426.9,277.13 427.68,274.08 428.45,271.15 429.22,268.35 430,265.7 430.77,263.18 431.54,260.81 432.32,258.59 433.09,256.5 433.86,254.56 434.64,252.74 435.41,251.05 436.18,249.48 436.96,248.03 437.73,246.68 438.5,245.43 439.28,244.28 440.05,243.21 440.82,242.23 441.6,241.32 442.37,240.48 443.14,239.71 443.92,239 444.69,238.34 445.46,237.74 446.24,237.19 447.01,236.67 447.78,236.2 448.56,235.77 449.33,235.37 450.1,235.01 450.88,234.67 451.65,234.36 452.42,234.07 453.2,233.81 453.97,233.57 454.74,233.35 455.52,233.14 456.29,232.95 457.06,232.78 457.84,232.62 458.61,232.48 459.38,232.34 460.16,232.22 460.93,232.1 461.71,232 462.48,231.9 463.25,231.81 464.03,231.73 464.8,231.66 465.57,231.59 466.35,231.53 467.12,231.47 467.89,231.41 468.67,231.36 469.44,231.32 470.21,231.28 470.99,231.24 471.76,231.2 472.53,231.17 473.31,231.14 474.08,231.11 474.85,231.09 475.63,231.07 476.4,231.04 477.17,231.02 477.95,231.01 478.72,230.99 479.49,230.97 480.27,230.96 481.04,230.95 481.81,230.94 482.59,230.92 483.36,230.91 484.13,230.91 484.91,230.9 485.68,230.89 486.45,230.88 487.23,230.88 488,230.87 488.77,230.86 489.55,230.86 490.32,230.85 491.09,230.85 491.87,230.85 492.64,230.84 493.41,230.84 494.19,230.84 494.96,230.83 495.73,230.83 496.51,230.83 497.28,230.83 498.05,230.82 498.83,230.82 499.6,230.82" fill="none" stroke="#6a2a10" stroke-width="1.0" stroke-dasharray="3 1 1 1"/>
<polyline points="345.7,360.08 346.47,360.08 347.25,360.08 348.02,360.07 348.79,360.07 349.57,360.07 350.34,360.07 351.11,360.06 351.89,360.06 352.66,360.06 353.43,360.05 354.21,360.05 354.98,360.05 355.75,360.04 356.53,360.04 357.3,360.03 358.07,360.02 358.85,360.02 359.62,360.01 360.39,360 361.17,359.99 361.94,359.99 362.71,359.98 363.49,359.96 364.26,359.95 365.03,359.94 365.81,359.93 366.58,359.91 367.35,359.89 368.13,359.88 368.9,359.86 369.67,359.83 370.45,359.81 371.22,359.79 371.99,359.76 372.77,359.73 373.54,359.7 374.31,359.66 375.09,359.62 375.86,359.58 376.63,359.54 377.41,359.49 378.18,359.43 378.95,359.37 379.73,359.31 380.5,359.24 381.27,359.17 382.05,359.09 382.82,359 383.59,358.9 384.37,358.8 385.14,358.68 385.92,358.56 386.69,358.42 387.46,358.28 388.24,358.12 389.01,357.95 389.78,357.76 390.56,357.55 391.33,357.33 392.1,357.09 392.88,356.83 393.65,356.54 394.42,356.23 395.2,355.89 395.97,355.53 396.74,355.13 397.52,354.7 398.29,354.23 399.06,353.71 399.84,353.16 400.61,352.56 401.38,351.9 402.16,351.19 402.93,350.42 403.7,349.58 404.48,348.67 405.25,347.69 406.02,346.62 406.8,345.47 407.57,344.22 408.34,342.87 409.12,341.42 409.89,339.85 410.66,338.16 411.44,336.34 412.21,334.4 412.98,332.31 413.76,330.09 414.53,327.72 415.3,325.2 416.08,322.55 416.85,319.75 417.62,316.82 418.4,313.77 419.17,310.61 419.94,307.35 420.72,304.01 421.49,300.61 422.26,297.17 423.04,293.73 423.81,290.29 424.58,286.89 425.36,283.55 426.13,280.29 426.9,277.13 427.68,274.08 428.45,271.15 429.22,268.35 430,265.7 430.77,263.18 431.54,260.81 432.32,258.59 433.09,256.5 433.86,254.56 434.64,252.74 435.41,251.05 436.18,249.48 436.96,248.03 437.73,246.68 438.5,245.43 439.28,244.28 440.05,243.21 440.82,242.23 441.6,241.32 442.37,240.48 443.14,239.71 443.92,239 444.69,238.34 445.46,237.74 446.24,237.19 447.01,236.67 447.78,236.2 448.56,235.77 449.33,235.37 450.1,235.01 450.88,234.67 451.65,234.36 452.42,234.07 453.2,233.81 453.97,233.57 454.74,233.35 455.52,233.14 456.29,232.95 457.06,232.78 457.84,232.62 458.61,232.48 459.38,232.34 460.16,232.22 460.93,232.1 461.71,232 462.48,231.9 463.25,231.81 464.03,231.73 464.8,231.66 465.57,231.59 466.35,231.53 467.12,231.47 467.89,231.41 468.67,231.36 469.44,231.32 470.21,231.28 470.99,231.24 471.76,231.2 472.53,231.17 473.31,231.14 474.08,231.11 474.85,231.09 475.63,231.07 476.4,231.04 477.17,231.02 477.95,231.01 478.72,230.99 479.49,230.97 480.27,230.96 481.04,230.95 481.81,230.94 482.59,230.92 483.36,230.91 484.13,230.91 484.91,230.9 485.68,230.89 486.45,230.88 487.23,230.88 488,230.87 488.77,230.86 489.55,230.86 490.32,230.85 491.09,230.85 491.87,230.85 492.64,230.84 493.41,230.84 494.19,230.84 494.96,230.83 495.73,230.83 496.51,230.83 497.28,230.83 498.05,230.82 498.83,230.82 499.6,230.82" fill="none" stroke="#e8862a" stroke-width="0.45" stroke-dasharray="3 1 1 1"/>
<rect x="348.3" y="232.4" width="66.6" height="58.8" fill="#fff" stroke="#262626" stroke-width="0.5"/>
<line x1="348.3" x2="414.9" y1="250.3" y2="250.3" stroke="#262626" stroke-width="0.5"/>
<text x="381.6" y="240.6" text-anchor="middle" class="lg">ε<tspan baseline-shift="-1.3" font-size="3.2">22</tspan>−ε<tspan baseline-shift="-1.3" font-size="3.2">11</tspan>=+1×10<tspan baseline-shift="2" font-size="3.2">-3</tspan></text>
<text x="381.6" y="247.2" text-anchor="middle" class="lg">h<tspan baseline-shift="-1.7" font-size="3.4">1</tspan>=0</text>
<line x1="360.5" x2="365.5" y1="255.6" y2="255.6" stroke="#2b2ba8" stroke-width="1" stroke-dasharray="2.4 1.2"/>
<text x="367" y="257.1" class="lg">h<tspan baseline-shift="-1.7" font-size="3.4">2</tspan>=0</text>
<line x1="360.5" x2="365.5" y1="263.2" y2="263.2" stroke="#d42228" stroke-dasharray="0.01 1.7" stroke-linecap="round" stroke-width="1.1"/>
<text x="367" y="264.7" class="lg">h<tspan baseline-shift="-1.7" font-size="3.4">2</tspan>=0.02</text>
<line x1="360.5" x2="365.5" y1="270.8" y2="270.8" stroke="#b04a1a" stroke-width="1" stroke-dasharray="2.5 0.8 0.8 0.8"/>
<text x="367" y="272.3" class="lg">h<tspan baseline-shift="-1.7" font-size="3.4">2</tspan>=0.04</text>
<line x1="360.5" x2="365.5" y1="278.4" y2="278.4" stroke="#2a7a2a" stroke-width="1"/>
<text x="367" y="279.9" class="lg">h<tspan baseline-shift="-1.7" font-size="3.4">2</tspan>=0.06</text>
<line x1="360.5" x2="365.5" y1="286" y2="286" stroke="#7d2fa0" stroke-width="1"/>
<text x="367" y="287.5" class="lg">h<tspan baseline-shift="-1.7" font-size="3.4">2</tspan>=0.06185137</text>
<rect x="529.3" y="230.6" width="147.2" height="129.7" fill="#fff" stroke="#262626" stroke-width="0.6"/>
<path d="M529.3 360.3v-1.5M529.3 230.6v1.5" stroke="#262626" stroke-width="0.5"/>
<path d="M566.1 360.3v-1.5M566.1 230.6v1.5" stroke="#262626" stroke-width="0.5"/>
<path d="M602.9 360.3v-1.5M602.9 230.6v1.5" stroke="#262626" stroke-width="0.5"/>
<path d="M639.7 360.3v-1.5M639.7 230.6v1.5" stroke="#262626" stroke-width="0.5"/>
<path d="M676.5 360.3v-1.5M676.5 230.6v1.5" stroke="#262626" stroke-width="0.5"/>
<path d="M529.3 360.3h1.5M676.5 360.3h-1.5" stroke="#262626" stroke-width="0.5"/>
<path d="M529.3 345.89h1.5M676.5 345.89h-1.5" stroke="#262626" stroke-width="0.5"/>
<path d="M529.3 331.48h1.5M676.5 331.48h-1.5" stroke="#262626" stroke-width="0.5"/>
<path d="M529.3 317.07h1.5M676.5 317.07h-1.5" stroke="#262626" stroke-width="0.5"/>
<path d="M529.3 302.66h1.5M676.5 302.66h-1.5" stroke="#262626" stroke-width="0.5"/>
<path d="M529.3 288.24h1.5M676.5 288.24h-1.5" stroke="#262626" stroke-width="0.5"/>
<path d="M529.3 273.83h1.5M676.5 273.83h-1.5" stroke="#262626" stroke-width="0.5"/>
<path d="M529.3 259.42h1.5M676.5 259.42h-1.5" stroke="#262626" stroke-width="0.5"/>
<path d="M529.3 245.01h1.5M676.5 245.01h-1.5" stroke="#262626" stroke-width="0.5"/>
<path d="M529.3 230.6h1.5M676.5 230.6h-1.5" stroke="#262626" stroke-width="0.5"/>
<text x="529.3" y="368.4" text-anchor="middle" class="tk">-200</text>
<text x="566.1" y="368.4" text-anchor="middle" class="tk">-100</text>
<text x="602.9" y="368.4" text-anchor="middle" class="tk">0</text>
<text x="639.7" y="368.4" text-anchor="middle" class="tk">100</text>
<text x="676.5" y="368.4" text-anchor="middle" class="tk">200</text>
<text x="527.6" y="362.6" text-anchor="end" class="tk">0</text>
<text x="527.6" y="348.19" text-anchor="end" class="tk">20</text>
<text x="527.6" y="333.78" text-anchor="end" class="tk">40</text>
<text x="527.6" y="319.37" text-anchor="end" class="tk">60</text>
<text x="527.6" y="304.96" text-anchor="end" class="tk">80</text>
<text x="527.6" y="290.54" text-anchor="end" class="tk">100</text>
<text x="527.6" y="276.13" text-anchor="end" class="tk">120</text>
<text x="527.6" y="261.72" text-anchor="end" class="tk">140</text>
<text x="527.6" y="247.31" text-anchor="end" class="tk">160</text>
<text x="527.6" y="232.9" text-anchor="end" class="tk">180</text>
<text x="602.9" y="376.5" text-anchor="middle" class="lb">Strip axis coordinate (nm)</text>
<text transform="translate(514.6 295.45) rotate(-90) scale(0.93 1.1)" text-anchor="middle" class="lb">Polar angle <tspan font-family="Liberation Serif" font-style="italic">θ</tspan> (degree)</text>
<text x="673.4" y="245.6" text-anchor="end" class="tag">(b)</text>
<polyline points="529.3,295.45 676.5,295.45" fill="none" stroke="#555" stroke-width="0.5" stroke-dasharray="2 1.5"/>
<polyline points="529.3,336.52 676.5,336.52" fill="none" stroke="#7d2fa0" stroke-width="1.25"/>
<polyline points="529.3,360.05 530.04,360.04 530.78,360.03 531.52,360.02 532.26,360 533,359.99 533.74,359.98 534.48,359.96 535.22,359.94 535.96,359.93 536.7,359.91 537.44,359.89 538.18,359.87 538.92,359.85 539.66,359.83 540.4,359.81 541.14,359.78 541.87,359.76 542.61,359.73 543.35,359.71 544.09,359.68 544.83,359.65 545.57,359.62 546.31,359.59 547.05,359.55 547.79,359.52 548.53,359.48 549.27,359.44 550.01,359.4 550.75,359.36 551.49,359.32 552.23,359.27 552.97,359.22 553.71,359.17 554.45,359.12 555.19,359.06 555.93,359 556.67,358.94 557.41,358.88 558.15,358.81 558.89,358.74 559.63,358.66 560.37,358.59 561.11,358.51 561.85,358.42 562.59,358.33 563.33,358.24 564.07,358.14 564.81,358.04 565.55,357.93 566.28,357.82 567.02,357.7 567.76,357.58 568.5,357.45 569.24,357.32 569.98,357.18 570.72,357.03 571.46,356.88 572.2,356.71 572.94,356.54 573.68,356.37 574.42,356.18 575.16,355.99 575.9,355.78 576.64,355.57 577.38,355.35 578.12,355.11 578.86,354.87 579.6,354.61 580.34,354.35 581.08,354.06 581.82,353.77 582.56,353.46 583.3,353.14 584.04,352.81 584.78,352.45 585.52,352.08 586.26,351.7 587,351.29 587.74,350.87 588.48,350.43 589.22,349.97 589.96,349.49 590.69,348.98 591.43,348.45 592.17,347.9 592.91,347.32 593.65,346.72 594.39,346.09 595.13,345.43 595.87,344.75 596.61,344.03 597.35,343.28 598.09,342.5 598.83,341.69 599.57,340.84 600.31,339.95 601.05,339.03 601.79,338.07 602.53,337.07 603.27,336.04 604.01,334.96 604.75,333.84 605.49,332.68 606.23,331.47 606.97,330.22 607.71,328.93 608.45,327.6 609.19,326.22 609.93,324.79 610.67,323.32 611.41,321.81 612.15,320.26 612.89,318.67 613.63,317.03 614.37,315.36 615.11,313.65 615.84,311.91 616.58,310.14 617.32,308.34 618.06,306.51 618.8,304.66 619.54,302.79 620.28,300.9 621.02,299.01 621.76,297.1 622.5,295.2 623.24,293.29 623.98,291.39 624.72,289.49 625.46,287.61 626.2,285.75 626.94,283.9 627.68,282.08 628.42,280.29 629.16,278.52 629.9,276.79 630.64,275.09 631.38,273.43 632.12,271.81 632.86,270.22 633.6,268.68 634.34,267.18 635.08,265.73 635.82,264.31 636.56,262.95 637.3,261.62 638.04,260.34 638.78,259.1 639.52,257.91 640.25,256.76 640.99,255.65 641.73,254.58 642.47,253.56 643.21,252.57 643.95,251.62 644.69,250.71 645.43,249.84 646.17,249 646.91,248.19 647.65,247.42 648.39,246.68 649.13,245.97 649.87,245.29 650.61,244.64 651.35,244.02 652.09,243.42 652.83,242.85 653.57,242.31 654.31,241.78 655.05,241.28 655.79,240.81 656.53,240.35 657.27,239.91 658.01,239.5 658.75,239.1 659.49,238.72 660.23,238.35 660.97,238 661.71,237.67 662.45,237.35 663.19,237.05 663.93,236.76 664.66,236.48 665.4,236.22 666.14,235.96 666.88,235.72 667.62,235.49 668.36,235.27 669.1,235.06 669.84,234.86 670.58,234.67 671.32,234.48 672.06,234.31 672.8,234.14 673.54,233.98 674.28,233.83 675.02,233.68 675.76,233.55 676.5,233.41" fill="none" stroke="#2a7a2a" stroke-width="1.35"/>
<polyline points="529.3,360.3 530.04,360.3 530.78,360.3 531.52,360.3 532.26,360.3 533,360.3 533.74,360.3 534.48,360.3 535.22,360.3 535.96,360.3 536.7,360.3 537.44,360.3 538.18,360.3 538.92,360.3 539.66,360.3 540.4,360.3 541.14,360.3 541.87,360.3 542.61,360.3 543.35,360.3 544.09,360.3 544.83,360.3 545.57,360.3 546.31,360.3 547.05,360.3 547.79,360.3 548.53,360.3 549.27,360.3 550.01,360.3 550.75,360.3 551.49,360.3 552.23,360.3 552.97,360.3 553.71,360.3 554.45,360.3 555.19,360.3 555.93,360.3 556.67,360.3 557.41,360.3 558.15,360.3 558.89,360.3 559.63,360.3 560.37,360.3 561.11,360.3 561.85,360.3 562.59,360.3 563.33,360.3 564.07,360.3 564.81,360.29 565.55,360.29 566.28,360.29 567.02,360.29 567.76,360.29 568.5,360.29 569.24,360.29 569.98,360.28 570.72,360.28 571.46,360.28 572.2,360.27 572.94,360.27 573.68,360.26 574.42,360.25 575.16,360.25 575.9,360.24 576.64,360.23 577.38,360.21 578.12,360.2 578.86,360.18 579.6,360.16 580.34,360.13 581.08,360.1 581.82,360.07 582.56,360.03 583.3,359.98 584.04,359.92 584.78,359.85 585.52,359.78 586.26,359.68 587,359.57 587.74,359.44 588.48,359.29 589.22,359.11 589.96,358.9 590.69,358.66 591.43,358.36 592.17,358.02 592.91,357.62 593.65,357.14 594.39,356.58 595.13,355.92 595.87,355.14 596.61,354.23 597.35,353.16 598.09,351.9 598.83,350.42 599.57,348.69 600.31,346.66 601.05,344.29 601.79,341.54 602.53,338.36 603.27,334.69 604.01,330.5 604.75,325.77 605.49,320.49 606.23,314.7 606.97,308.47 607.71,301.92 608.45,295.2 609.19,288.48 609.93,281.95 610.67,275.75 611.41,270 612.15,264.76 612.89,260.07 613.63,255.92 614.37,252.29 615.11,249.14 615.84,246.42 616.58,244.08 617.32,242.07 618.06,240.36 618.8,238.9 619.54,237.66 620.28,236.6 621.02,235.69 621.76,234.93 622.5,234.28 623.24,233.72 623.98,233.25 624.72,232.85 625.46,232.51 626.2,232.22 626.94,231.98 627.68,231.77 628.42,231.6 629.16,231.45 629.9,231.32 630.64,231.21 631.38,231.12 632.12,231.04 632.86,230.97 633.6,230.92 634.34,230.87 635.08,230.83 635.82,230.79 636.56,230.76 637.3,230.74 638.04,230.72 638.78,230.7 639.52,230.69 640.25,230.67 640.99,230.66 641.73,230.65 642.47,230.64 643.21,230.64 643.95,230.63 644.69,230.63 645.43,230.62 646.17,230.62 646.91,230.62 647.65,230.61 648.39,230.61 649.13,230.61 649.87,230.61 650.61,230.61 651.35,230.61 652.09,230.61 652.83,230.6 653.57,230.6 654.31,230.6 655.05,230.6 655.79,230.6 656.53,230.6 657.27,230.6 658.01,230.6 658.75,230.6 659.49,230.6 660.23,230.6 660.97,230.6 661.71,230.6 662.45,230.6 663.19,230.6 663.93,230.6 664.66,230.6 665.4,230.6 666.14,230.6 666.88,230.6 667.62,230.6 668.36,230.6 669.1,230.6 669.84,230.6 670.58,230.6 671.32,230.6 672.06,230.6 672.8,230.6 673.54,230.6 674.28,230.6 675.02,230.6 675.76,230.6 676.5,230.6" fill="none" stroke="#3a2eb0" stroke-width="1.3" stroke-dasharray="3.2 1.7"/>
<polyline points="529.3,360.3 530.04,360.3 530.78,360.3 531.52,360.3 532.26,360.3 533,360.3 533.74,360.3 534.48,360.3 535.22,360.3 535.96,360.3 536.7,360.3 537.44,360.3 538.18,360.3 538.92,360.3 539.66,360.3 540.4,360.3 541.14,360.3 541.87,360.3 542.61,360.3 543.35,360.3 544.09,360.3 544.83,360.3 545.57,360.3 546.31,360.3 547.05,360.3 547.79,360.3 548.53,360.3 549.27,360.3 550.01,360.3 550.75,360.3 551.49,360.3 552.23,360.3 552.97,360.3 553.71,360.3 554.45,360.3 555.19,360.29 555.93,360.29 556.67,360.29 557.41,360.29 558.15,360.29 558.89,360.29 559.63,360.29 560.37,360.29 561.11,360.28 561.85,360.28 562.59,360.28 563.33,360.28 564.07,360.27 564.81,360.27 565.55,360.27 566.28,360.26 567.02,360.26 567.76,360.25 568.5,360.24 569.24,360.24 569.98,360.23 570.72,360.22 571.46,360.2 572.2,360.19 572.94,360.18 573.68,360.16 574.42,360.14 575.16,360.12 575.9,360.09 576.64,360.06 577.38,360.03 578.12,359.99 578.86,359.95 579.6,359.9 580.34,359.84 581.08,359.78 581.82,359.71 582.56,359.62 583.3,359.53 584.04,359.42 584.78,359.3 585.52,359.16 586.26,359 587,358.82 587.74,358.61 588.48,358.38 589.22,358.11 589.96,357.8 590.69,357.46 591.43,357.06 592.17,356.61 592.91,356.09 593.65,355.51 594.39,354.84 595.13,354.08 595.87,353.22 596.61,352.24 597.35,351.13 598.09,349.86 598.83,348.42 599.57,346.8 600.31,344.95 601.05,342.87 601.79,340.53 602.53,337.9 603.27,334.96 604.01,331.68 604.75,328.07 605.49,324.1 606.23,319.79 606.97,315.15 607.71,310.23 608.45,305.08 609.19,299.77 609.93,294.39 610.67,289.03 611.41,283.77 612.15,278.7 612.89,273.89 613.63,269.38 614.37,265.2 615.11,261.37 615.84,257.89 616.58,254.75 617.32,251.93 618.06,249.42 618.8,247.18 619.54,245.19 620.28,243.44 621.02,241.89 621.76,240.52 622.5,239.32 623.24,238.26 623.98,237.32 624.72,236.5 625.46,235.78 626.2,235.15 626.94,234.6 627.68,234.11 628.42,233.68 629.16,233.3 629.9,232.97 630.64,232.68 631.38,232.43 632.12,232.2 632.86,232.01 633.6,231.84 634.34,231.68 635.08,231.55 635.82,231.43 636.56,231.33 637.3,231.24 638.04,231.16 638.78,231.1 639.52,231.03 640.25,230.98 640.99,230.93 641.73,230.89 642.47,230.86 643.21,230.83 643.95,230.8 644.69,230.77 645.43,230.75 646.17,230.73 646.91,230.72 647.65,230.7 648.39,230.69 649.13,230.68 649.87,230.67 650.61,230.66 651.35,230.65 652.09,230.65 652.83,230.64 653.57,230.64 654.31,230.63 655.05,230.63 655.79,230.62 656.53,230.62 657.27,230.62 658.01,230.62 658.75,230.61 659.49,230.61 660.23,230.61 660.97,230.61 661.71,230.61 662.45,230.61 663.19,230.61 663.93,230.61 664.66,230.61 665.4,230.6 666.14,230.6 666.88,230.6 667.62,230.6 668.36,230.6 669.1,230.6 669.84,230.6 670.58,230.6 671.32,230.6 672.06,230.6 672.8,230.6 673.54,230.6 674.28,230.6 675.02,230.6 675.76,230.6 676.5,230.6" fill="none" stroke="#d42228" stroke-width="1.3" stroke-dasharray="0.01 1.9" stroke-linecap="round"/>
<polyline points="529.3,360.29 530.04,360.29 530.78,360.29 531.52,360.29 532.26,360.29 533,360.29 533.74,360.29 534.48,360.29 535.22,360.29 535.96,360.29 536.7,360.29 537.44,360.28 538.18,360.28 538.92,360.28 539.66,360.28 540.4,360.28 541.14,360.28 541.87,360.27 542.61,360.27 543.35,360.27 544.09,360.27 544.83,360.26 545.57,360.26 546.31,360.26 547.05,360.25 547.79,360.25 548.53,360.24 549.27,360.24 550.01,360.23 550.75,360.23 551.49,360.22 552.23,360.22 552.97,360.21 553.71,360.2 554.45,360.19 555.19,360.18 555.93,360.17 556.67,360.16 557.41,360.15 558.15,360.14 558.89,360.12 559.63,360.11 560.37,360.09 561.11,360.07 561.85,360.05 562.59,360.03 563.33,360.01 564.07,359.98 564.81,359.96 565.55,359.93 566.28,359.89 567.02,359.86 567.76,359.82 568.5,359.78 569.24,359.73 569.98,359.68 570.72,359.63 571.46,359.57 572.2,359.51 572.94,359.44 573.68,359.37 574.42,359.29 575.16,359.2 575.9,359.11 576.64,359 577.38,358.89 578.12,358.77 578.86,358.64 579.6,358.5 580.34,358.34 581.08,358.17 581.82,357.99 582.56,357.79 583.3,357.57 584.04,357.34 584.78,357.08 585.52,356.81 586.26,356.51 587,356.18 587.74,355.82 588.48,355.44 589.22,355.02 589.96,354.57 590.69,354.07 591.43,353.54 592.17,352.96 592.91,352.33 593.65,351.65 594.39,350.91 595.13,350.11 595.87,349.24 596.61,348.29 597.35,347.28 598.09,346.17 598.83,344.98 599.57,343.7 600.31,342.31 601.05,340.81 601.79,339.2 602.53,337.47 603.27,335.61 604.01,333.62 604.75,331.49 605.49,329.23 606.23,326.83 606.97,324.28 607.71,321.6 608.45,318.78 609.19,315.83 609.93,312.77 610.67,309.6 611.41,306.34 612.15,303.01 612.89,299.63 613.63,296.22 614.37,292.81 615.11,289.41 615.84,286.06 616.58,282.77 617.32,279.55 618.06,276.44 618.8,273.44 619.54,270.56 620.28,267.82 621.02,265.21 621.76,262.74 622.5,260.41 623.24,258.22 623.98,256.17 624.72,254.26 625.46,252.47 626.2,250.8 626.94,249.26 627.68,247.82 628.42,246.49 629.16,245.25 629.9,244.11 630.64,243.06 631.38,242.08 632.12,241.18 632.86,240.35 633.6,239.58 634.34,238.87 635.08,238.22 635.82,237.62 636.56,237.06 637.3,236.55 638.04,236.08 638.78,235.65 639.52,235.25 640.25,234.88 640.99,234.54 641.73,234.23 642.47,233.94 643.21,233.67 643.95,233.43 644.69,233.21 645.43,233 646.17,232.81 646.91,232.63 647.65,232.47 648.39,232.32 649.13,232.19 649.87,232.06 650.61,231.94 651.35,231.84 652.09,231.74 652.83,231.65 653.57,231.57 654.31,231.49 655.05,231.42 655.79,231.35 656.53,231.29 657.27,231.24 658.01,231.19 658.75,231.14 659.49,231.1 660.23,231.06 660.97,231.02 661.71,230.99 662.45,230.96 663.19,230.93 663.93,230.9 664.66,230.88 665.4,230.86 666.14,230.84 666.88,230.82 667.62,230.8 668.36,230.78 669.1,230.77 669.84,230.76 670.58,230.74 671.32,230.73 672.06,230.72 672.8,230.71 673.54,230.7 674.28,230.7 675.02,230.69 675.76,230.68 676.5,230.67" fill="none" stroke="#6a2a10" stroke-width="1.0" stroke-dasharray="3 1 1 1"/>
<polyline points="529.3,360.29 530.04,360.29 530.78,360.29 531.52,360.29 532.26,360.29 533,360.29 533.74,360.29 534.48,360.29 535.22,360.29 535.96,360.29 536.7,360.29 537.44,360.28 538.18,360.28 538.92,360.28 539.66,360.28 540.4,360.28 541.14,360.28 541.87,360.27 542.61,360.27 543.35,360.27 544.09,360.27 544.83,360.26 545.57,360.26 546.31,360.26 547.05,360.25 547.79,360.25 548.53,360.24 549.27,360.24 550.01,360.23 550.75,360.23 551.49,360.22 552.23,360.22 552.97,360.21 553.71,360.2 554.45,360.19 555.19,360.18 555.93,360.17 556.67,360.16 557.41,360.15 558.15,360.14 558.89,360.12 559.63,360.11 560.37,360.09 561.11,360.07 561.85,360.05 562.59,360.03 563.33,360.01 564.07,359.98 564.81,359.96 565.55,359.93 566.28,359.89 567.02,359.86 567.76,359.82 568.5,359.78 569.24,359.73 569.98,359.68 570.72,359.63 571.46,359.57 572.2,359.51 572.94,359.44 573.68,359.37 574.42,359.29 575.16,359.2 575.9,359.11 576.64,359 577.38,358.89 578.12,358.77 578.86,358.64 579.6,358.5 580.34,358.34 581.08,358.17 581.82,357.99 582.56,357.79 583.3,357.57 584.04,357.34 584.78,357.08 585.52,356.81 586.26,356.51 587,356.18 587.74,355.82 588.48,355.44 589.22,355.02 589.96,354.57 590.69,354.07 591.43,353.54 592.17,352.96 592.91,352.33 593.65,351.65 594.39,350.91 595.13,350.11 595.87,349.24 596.61,348.29 597.35,347.28 598.09,346.17 598.83,344.98 599.57,343.7 600.31,342.31 601.05,340.81 601.79,339.2 602.53,337.47 603.27,335.61 604.01,333.62 604.75,331.49 605.49,329.23 606.23,326.83 606.97,324.28 607.71,321.6 608.45,318.78 609.19,315.83 609.93,312.77 610.67,309.6 611.41,306.34 612.15,303.01 612.89,299.63 613.63,296.22 614.37,292.81 615.11,289.41 615.84,286.06 616.58,282.77 617.32,279.55 618.06,276.44 618.8,273.44 619.54,270.56 620.28,267.82 621.02,265.21 621.76,262.74 622.5,260.41 623.24,258.22 623.98,256.17 624.72,254.26 625.46,252.47 626.2,250.8 626.94,249.26 627.68,247.82 628.42,246.49 629.16,245.25 629.9,244.11 630.64,243.06 631.38,242.08 632.12,241.18 632.86,240.35 633.6,239.58 634.34,238.87 635.08,238.22 635.82,237.62 636.56,237.06 637.3,236.55 638.04,236.08 638.78,235.65 639.52,235.25 640.25,234.88 640.99,234.54 641.73,234.23 642.47,233.94 643.21,233.67 643.95,233.43 644.69,233.21 645.43,233 646.17,232.81 646.91,232.63 647.65,232.47 648.39,232.32 649.13,232.19 649.87,232.06 650.61,231.94 651.35,231.84 652.09,231.74 652.83,231.65 653.57,231.57 654.31,231.49 655.05,231.42 655.79,231.35 656.53,231.29 657.27,231.24 658.01,231.19 658.75,231.14 659.49,231.1 660.23,231.06 660.97,231.02 661.71,230.99 662.45,230.96 663.19,230.93 663.93,230.9 664.66,230.88 665.4,230.86 666.14,230.84 666.88,230.82 667.62,230.8 668.36,230.78 669.1,230.77 669.84,230.76 670.58,230.74 671.32,230.73 672.06,230.72 672.8,230.71 673.54,230.7 674.28,230.7 675.02,230.69 675.76,230.68 676.5,230.67" fill="none" stroke="#e8862a" stroke-width="0.45" stroke-dasharray="3 1 1 1"/>
<rect x="532" y="232.5" width="67.6" height="58.4" fill="#fff" stroke="#262626" stroke-width="0.5"/>
<line x1="532" x2="599.6" y1="250.4" y2="250.4" stroke="#262626" stroke-width="0.5"/>
<text x="565.8" y="240.6" text-anchor="middle" class="lg">ε<tspan baseline-shift="-1.3" font-size="3.2">22</tspan>−ε<tspan baseline-shift="-1.3" font-size="3.2">11</tspan>=+1×10<tspan baseline-shift="2" font-size="3.2">-3</tspan></text>
<text x="565.8" y="247.2" text-anchor="middle" class="lg">h<tspan baseline-shift="-1.7" font-size="3.4">1</tspan>=0.001</text>
<line x1="545.4" x2="549.8" y1="255.6" y2="255.6" stroke="#2b2ba8" stroke-width="1" stroke-dasharray="2.4 1.2"/>
<text x="551.8" y="257.1" class="lg">h<tspan baseline-shift="-1.7" font-size="3.4">2</tspan>=0</text>
<line x1="545.4" x2="549.8" y1="263.2" y2="263.2" stroke="#d42228" stroke-dasharray="0.01 1.7" stroke-linecap="round" stroke-width="1.1"/>
<text x="551.8" y="264.7" class="lg">h<tspan baseline-shift="-1.7" font-size="3.4">2</tspan>=0.02</text>
<line x1="545.4" x2="549.8" y1="270.8" y2="270.8" stroke="#b04a1a" stroke-width="1" stroke-dasharray="2.5 0.8 0.8 0.8"/>
<text x="551.8" y="272.3" class="lg">h<tspan baseline-shift="-1.7" font-size="3.4">2</tspan>=0.04</text>
<line x1="545.4" x2="549.8" y1="278.4" y2="278.4" stroke="#2a7a2a" stroke-width="1"/>
<text x="551.8" y="279.9" class="lg">h<tspan baseline-shift="-1.7" font-size="3.4">2</tspan>=0.06</text>
<line x1="545.4" x2="549.8" y1="286" y2="286" stroke="#7d2fa0" stroke-width="1"/>
<text x="551.8" y="287.5" class="lg">h<tspan baseline-shift="-1.7" font-size="3.4">2</tspan>=0.06711423</text>
</svg>
</body></html>
